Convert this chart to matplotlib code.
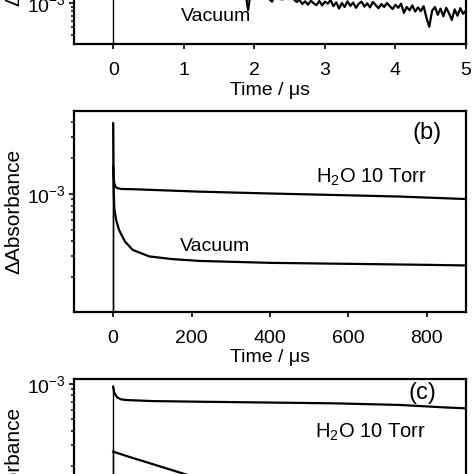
import numpy as np
import matplotlib
matplotlib.use("Agg")
import matplotlib.pyplot as plt
from matplotlib.ticker import LogLocator, NullFormatter

plt.rcParams['font.family'] = ['Liberation Sans', 'DejaVu Sans']
plt.rcParams['mathtext.fontset'] = 'custom'
plt.rcParams['mathtext.rm'] = 'Liberation Sans'
plt.rcParams['mathtext.it'] = 'Liberation Sans:italic'
plt.rcParams['mathtext.default'] = 'regular'

# panel (a): vacuum, 0-5 us (values in 1e-4 units); first point = peak at t=0
t_a = [0, 0.02, 0.1, 0.3, 0.6, 1.0, 1.4, 1.8, 1.88, 1.91, 1.94, 2.0, 2.2, 2.25, 2.27, 2.3, 2.4,
       2.44, 2.48, 2.52, 2.56, 2.60, 2.64, 2.68, 2.72, 2.76, 2.80, 2.84, 2.88, 2.92, 2.96,
       3.00, 3.04, 3.08, 3.12, 3.16, 3.20, 3.24, 3.28, 3.32, 3.36, 3.40, 3.44, 3.48, 3.52,
       3.56, 3.60, 3.64, 3.68, 3.72, 3.76, 3.80, 3.84, 3.88, 3.92, 3.96, 4.00, 4.04, 4.08,
       4.12, 4.16, 4.20, 4.24, 4.28, 4.32, 4.36, 4.40, 4.44, 4.48, 4.52, 4.56, 4.60, 4.64,
       4.68, 4.72, 4.76, 4.80, 4.84, 4.88, 4.92, 4.96, 5.00]
A_a = [200, 150, 80, 40, 25, 17, 14, 12.5, 12.5, 8.2, 12.5, 12, 11.5, 10.5, 11.5, 11.5, 11.2,
       11.6, 11.3, 11.8, 11.2, 10.4, 11.0, 9.8, 10.6, 9.6, 10.8, 10.0, 9.5, 10.7, 9.4,
       10.5, 9.9, 11.0, 9.2, 10.3, 8.6, 10.1, 9.0, 10.6, 9.3, 10.2, 8.8, 9.9, 10.5,
       9.1, 10.0, 8.9, 10.4, 9.5, 8.7, 9.8, 9.0, 10.1, 9.2, 8.5, 9.6, 8.8, 9.9,
       7.6, 9.0, 8.2, 9.4, 7.9, 8.9, 8.0, 9.2, 6.6, 5.1, 8.1, 9.0, 7.2, 8.6,
       6.9, 8.8, 7.5, 6.2, 8.4, 7.0, 8.7, 7.4, 8.1]

# panel (b): 0-900 us
t_b_h2o = [0, 1, 3, 6, 10, 20, 50, 220, 391, 563, 733, 900]
A_b_h2o = [17, 14, 12.2, 11.5, 11.2, 11.0, 10.95, 10.45, 10.1, 9.8, 9.5, 9.06]
t_b_vac = [0, 1, 3, 8, 15, 30, 50, 92, 150, 220, 400, 600, 800, 900]
A_b_vac = [39, 12, 7.5, 6.0, 5.0, 4.0, 3.4, 3.0, 2.85, 2.75, 2.65, 2.6, 2.55, 2.52]

# panel (c): 0-900 us
t_c_h2o = [0, 3, 10, 20, 33, 100, 220, 563, 733, 850, 900]
A_c_h2o = [9.5, 8.4, 7.7, 7.4, 7.3, 7.15, 7.06, 6.84, 6.62, 6.3, 6.2]
t_c_vac = [0, 50, 100, 177, 250, 350, 500, 700, 900]
A_c_vac = [2.64, 2.33, 2.07, 1.72, 1.45, 1.2, 0.95, 0.75, 0.6]

fig = plt.figure(figsize=(4.74, 4.74), dpi=100)
left, width, height = 0.156, 0.827, 0.424
ax_a = fig.add_axes([left, 0.907, width, height])
ax_b = fig.add_axes([left, 0.342, width, height])
ax_c = fig.add_axes([left, -0.224, width, height])


def trace(ax, t, a):
    a = np.array(a) * 1e-4
    ax.plot(t, a, color='black', lw=1.6)
    # vertical rise at the laser pulse, from the baseline up to the peak
    ax.vlines(t[0], ax.get_ylim()[0], a[0], color='black', lw=1.0)


for ax in (ax_a, ax_b, ax_c):
    ax.set_yscale('log')
    for s in ax.spines.values():
        s.set_linewidth(1.6)
    ax.tick_params(which='major', direction='out', length=3.8, width=1.2, labelsize=14)
    ax.tick_params(axis='x', pad=9)
    ax.tick_params(axis='y', pad=2)
    ax.tick_params(which='minor', direction='out', length=2.3, width=1.1)
    ax.tick_params(axis='x', which='minor', bottom=False)
    ax.yaxis.set_minor_locator(LogLocator(base=10, subs=np.arange(2, 10)))
    ax.yaxis.set_minor_formatter(NullFormatter())
    ax.set_ylabel('ΔAbsorbance', fontsize=15)
    ax.yaxis.set_label_coords(-0.128, 0.5)

ax_a.set_xlim(-0.56, 5)
ax_a.set_ylim(3.1e-4, 1e-1)
trace(ax_a, t_a, A_a)
ax_a.set_xticks([0, 1, 2, 3, 4, 5])
ax_a.set_xlabel('Time / μs', fontsize=14, labelpad=2)
ax_a.text(0.362, 0.139, 'Vacuum', transform=ax_a.transAxes, fontsize=14, ha='center', va='center')

ax_b.set_xlim(-100, 900)
ax_b.set_ylim(1.03e-4, 4.95e-3)
trace(ax_b, t_b_h2o, A_b_h2o)
trace(ax_b, t_b_vac, A_b_vac)
ax_b.set_xticks([0, 200, 400, 600, 800])
ax_b.set_xlabel('Time / μs', fontsize=14, labelpad=2)
ax_b.text(0.90, 0.89, '(b)', transform=ax_b.transAxes, fontsize=17, ha='center', va='center')
ax_b.text(0.76, 0.667, 'H$_2$O 10 Torr', transform=ax_b.transAxes, fontsize=14.5, ha='center', va='center')
ax_b.text(0.36, 0.323, 'Vacuum', transform=ax_b.transAxes, fontsize=14, ha='center', va='center')

ax_c.set_xlim(-100, 900)
ax_c.set_ylim(2.1e-5, 1.1e-3)
trace(ax_c, t_c_h2o, A_c_h2o)
trace(ax_c, t_c_vac, A_c_vac)
ax_c.set_xticks([0, 200, 400, 600, 800])
ax_c.yaxis.set_label_coords(-0.128, 0.55)
ax_c.text(0.89, 0.93, '(c)', transform=ax_c.transAxes, fontsize=17, ha='center', va='center')
ax_c.text(0.757, 0.736, 'H$_2$O 10 Torr', transform=ax_c.transAxes, fontsize=14.5, ha='center', va='center')

fig.savefig('out.png', dpi=100)
